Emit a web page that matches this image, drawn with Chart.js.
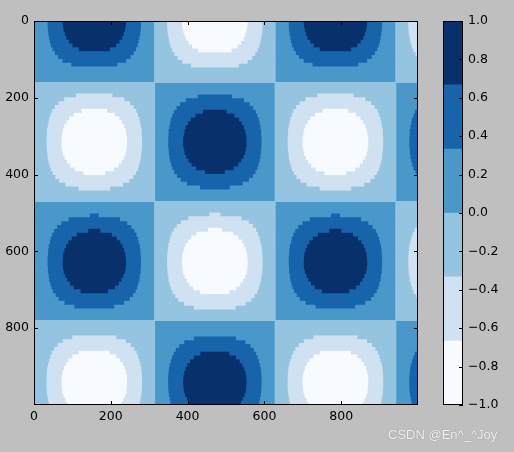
<!DOCTYPE html>
<html>
<head>
<meta charset="utf-8">
<script src="https://cdn.jsdelivr.net/npm/chart.js@4.4.0/dist/chart.umd.min.js"></script>
<style>
    html, body { margin: 0; padding: 0; background: #bfbfbf; }
    #wrap { position: relative; width: 514px; height: 452px; overflow: hidden; }
    canvas { position: absolute; left: 0; top: 0; }
    .mark {
        position: absolute; left: 388px; top: 427px;
        font: 13px 'Liberation Sans', Arial, sans-serif;
        color: #f4f4f4; text-shadow: 0 0 1px #7a7a7a;
        white-space: nowrap;
    }
</style>
</head>
<body>
<div id="wrap">
    <canvas id="image" width="514" height="452"></canvas>
    <canvas id="colorbar" width="514" height="452"></canvas>
    <div class="mark">CSDN @En^_^Joy</div>
</div>
<script>
// picture is 1000 x 1000 pixels, coloured in 6 levels between -1 and 1
const levelColors = ['#f7fbff', '#d0e1f2', '#94c4df', '#4a98c9', '#1764ab', '#08306b'];
const levelBounds = [-1, -0.667, -0.333, 0, 0.333, 0.667, 1];
const axisTicks = [0, 200, 400, 600, 800];
const colorbarTicks = [-1, -0.8, -0.6, -0.4, -0.2, 0, 0.2, 0.4, 0.6, 0.8, 1];
const imageSize = 1000;

// columns where the picture changes sign (last band runs off the right edge)
const colZeros = [0, 314, 628, 942, 1256];
const colSigns = [1, -1, 1, -1];
// rows where it changes sign
const rowZeros = [0, 157, 471, 785, 1000];
const rowSigns = [1, -1, 1, -1];

// read in bands of 10 rows: columns from a sign change to the first contour
// (|value| > 1/3) and to the second one (|value| > 2/3); null = not reached
const rowHeight = 10;
const edge1 = [
    34, 34, 35, 36, 38, 40, 43, 47, 53, 61,
    73, 96, null, null, null, null, null, null, null, 111,
    80, 65, 56, 49, 45, 41, 39, 37, 35, 35,
    34, 34, 34, 35, 36, 37, 39, 42, 45, 50,
    57, 67, 83, 117, null, null, null, null, null, null,
    144, 89, 70, 59, 51, 46, 42, 40, 37, 36,
    35, 34, 34, 34, 35, 35, 37, 38, 41, 44,
    48, 55, 63, 78, 104, null, null, null, null, null,
    null, null, 101, 76, 63, 54, 48, 44, 41, 38,
    36, 35, 34, 34, 34, 34, 35, 36, 38, 40
];
const edge2 = [
    73, 74, 76, 79, 83, 90, 99, 115, null, null,
    null, null, null, null, null, null, null, null, null, null,
    null, null, null, 125, 105, 93, 86, 80, 77, 75,
    73, 73, 73, 75, 77, 81, 87, 95, 107, 130,
    null, null, null, null, null, null, null, null, null, null,
    null, null, null, null, 140, 110, 97, 88, 82, 78,
    75, 74, 73, 73, 74, 76, 80, 85, 92, 102,
    120, null, null, null, null, null, null, null, null, null,
    null, null, null, null, null, null, 118, 101, 91, 84,
    79, 76, 74, 73, 73, 74, 75, 78, 83, 88
];

Chart.defaults.font.family = "'DejaVu Sans', sans-serif";
Chart.defaults.font.size = 12.5;
Chart.defaults.color = '#000';

// turn the row bands into horizontal runs, one list per colour level
function buildRuns() {
    const runs = levelColors.map(() => []);
    edge1.forEach((e1, r) => {
        const e2 = edge2[r];
        const y = r * rowHeight + rowHeight / 2;
        const band = rowZeros.findIndex((z, k) => y >= z && y < rowZeros[k + 1]);
        const rowSign = rowSigns[band];
        colSigns.forEach((colSign, k) => {
            const a = colZeros[k];
            const b = colZeros[k + 1];
            const lv = rowSign * colSign > 0 ? [3, 4, 5] : [2, 1, 0];
            let cuts, levels;
            if (e1 === null) {
                cuts = [a, b];
                levels = [lv[0]];
            } else if (e2 === null) {
                cuts = [a, a + e1, b - e1, b];
                levels = [lv[0], lv[1], lv[0]];
            } else {
                cuts = [a, a + e1, a + e2, b - e2, b - e1, b];
                levels = [lv[0], lv[1], lv[2], lv[1], lv[0]];
            }
            levels.forEach((level, n) => {
                const start = cuts[n];
                const end = Math.min(cuts[n + 1], imageSize);
                if (end > start) runs[level].push({ x: [start, end], y: y });
            });
        });
    });
    return runs;
}

// classic matplotlib look: ticks pointing inwards plus a black frame
const innerTicks = {
    id: 'innerTicks',
    afterDraw(chart, args, opts) {
        const { ctx, chartArea: a, scales } = chart;
        const len = opts.length || 4;
        ctx.save();
        ctx.strokeStyle = '#000';
        ctx.lineWidth = 1;
        ctx.beginPath();
        (opts.sides || []).forEach(side => {
            const horizontal = side === 'top' || side === 'bottom';
            const scale = horizontal ? scales.x : scales.y;
            scale.ticks.forEach(t => {
                const p = Math.round(scale.getPixelForValue(t.value)) + 0.5;
                if (horizontal) {
                    const y0 = side === 'bottom' ? a.bottom : a.top;
                    const dir = side === 'bottom' ? -1 : 1;
                    ctx.moveTo(p, y0);
                    ctx.lineTo(p, y0 + dir * len);
                } else {
                    const x0 = side === 'left' ? a.left : a.right;
                    const dir = side === 'left' ? 1 : -1;
                    ctx.moveTo(x0, p);
                    ctx.lineTo(x0 + dir * len, p);
                }
            });
        });
        ctx.stroke();
        ctx.strokeRect(a.left + 0.5, a.top + 0.5, a.width - 1, a.height - 1);
        ctx.restore();
    }
};

const runs = buildRuns();

new Chart(document.getElementById('image'), {
    type: 'bar',
    data: {
        datasets: levelColors.map((color, i) => ({
            data: runs[i],
            backgroundColor: color,
            borderWidth: 0,
            grouped: false,
            barPercentage: 1,
            categoryPercentage: 1,
            inflateAmount: 0.5
        }))
    },
    options: {
        indexAxis: 'y',
        responsive: false,
        animation: false,
        devicePixelRatio: 1,
        layout: { padding: { left: 0, top: 21, right: 96, bottom: 0 } },
        plugins: {
            legend: { display: false },
            tooltip: { enabled: false },
            innerTicks: { sides: ['bottom', 'top', 'left', 'right'], length: 4 }
        },
        scales: {
            x: {
                type: 'linear',
                min: 0,
                max: imageSize,
                afterBuildTicks: s => { s.ticks = axisTicks.map(v => ({ value: v })); },
                afterFit: s => { s.height = 47; },
                grid: { display: false, drawTicks: false },
                border: { display: false },
                ticks: { padding: 4 }
            },
            y: {
                type: 'linear',
                reverse: true,
                offset: false,
                min: 0,
                max: imageSize,
                afterBuildTicks: s => { s.ticks = axisTicks.map(v => ({ value: v })); },
                afterFit: s => { s.width = 34; },
                grid: { display: false, drawTicks: false, offset: false },
                border: { display: false },
                ticks: { padding: 5 }
            }
        }
    },
    plugins: [innerTicks]
});

new Chart(document.getElementById('colorbar'), {
    type: 'bar',
    data: {
        labels: [''],
        datasets: levelColors.map((color, i) => ({
            data: [[levelBounds[i], levelBounds[i + 1]]],
            backgroundColor: color,
            borderWidth: 0,
            grouped: false,
            barPercentage: 1,
            categoryPercentage: 1
        }))
    },
    options: {
        responsive: false,
        animation: false,
        devicePixelRatio: 1,
        layout: { padding: { left: 443, top: 21, right: 0, bottom: 47 } },
        plugins: {
            legend: { display: false },
            tooltip: { enabled: false },
            innerTicks: { sides: ['right'], length: 4 }
        },
        scales: {
            x: { display: false },
            y: {
                position: 'right',
                min: -1,
                max: 1,
                afterBuildTicks: s => { s.ticks = colorbarTicks.map(v => ({ value: v })); },
                afterFit: s => { s.width = 51; },
                grid: { display: false, drawTicks: false },
                border: { display: false },
                ticks: {
                    padding: 5,
                    callback: v => v.toFixed(1).replace('-', '\u2212')
                }
            }
        }
    },
    plugins: [innerTicks]
});
</script>
</body>
</html>
